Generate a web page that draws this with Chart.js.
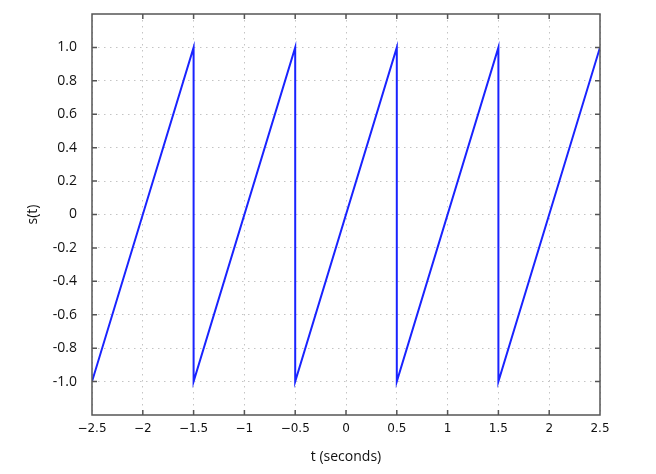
<!DOCTYPE html>
<html>
<head>
<meta charset="utf-8">
<script src="https://cdn.jsdelivr.net/npm/chart.js@4"></script>
<style>
  body { margin: 0; background: #fff; }
</style>
</head>
<body>
<canvas id="myChart" width="656" height="474"></canvas>
<script>
// sawtooth s(t), one period = 1 s
const tPoints = [-2.5, -1.5, -1.5, -0.5, -0.5, 0.5, 0.5, 1.5, 1.5, 2.5];
const sPoints = [-1, 1, -1, 1, -1, 1, -1, 1, -1, 1];

const xTicks = [-2.5, -2, -1.5, -1, -0.5, 0, 0.5, 1, 1.5, 2, 2.5];
const xTickLabels = ["\u22122.5", "\u22122", "\u22121.5", "\u22121", "\u22120.5", "0", "0.5", "1", "1.5", "2", "2.5"];
const yTicks = [-1, -0.8, -0.6, -0.4, -0.2, 0, 0.2, 0.4, 0.6, 0.8, 1];
const yTickLabels = ["-1.0", "-0.8", "-0.6", "-0.4", "-0.2", "0", "0.2", "0.4", "0.6", "0.8", "1.0"];

const fontFam = "'Open Sans', 'Noto Sans', sans-serif";
const textColor = "#111";

// frame + inward tick marks on all four sides
const framePlugin = {
  id: "frame",
  afterDraw(chart) {
    const { ctx, chartArea: a, scales } = chart;
    const len = 5;
    ctx.save();
    ctx.strokeStyle = "#555";
    ctx.lineWidth = 1.5;
    ctx.beginPath();
    xTicks.forEach((v) => {
      if (v === xTicks[0] || v === xTicks[xTicks.length - 1]) return;
      const px = scales.x.getPixelForValue(v);
      ctx.moveTo(px, a.bottom);
      ctx.lineTo(px, a.bottom - len);
      ctx.moveTo(px, a.top);
      ctx.lineTo(px, a.top + len);
    });
    yTicks.forEach((v) => {
      const py = scales.y.getPixelForValue(v);
      ctx.moveTo(a.left, py);
      ctx.lineTo(a.left + len, py);
      ctx.moveTo(a.right, py);
      ctx.lineTo(a.right - len, py);
    });
    ctx.stroke();
    ctx.strokeRect(a.left, a.top, a.right - a.left, a.bottom - a.top);
    ctx.restore();
  }
};

const config = {
  type: "line",
  data: {
    datasets: [
      {
        label: "s(t)",
        data: tPoints.map((t, i) => ({ x: t, y: sPoints[i] })),
        borderColor: "rgb(25, 35, 255)",
        borderWidth: 2,
        pointRadius: 0,
        tension: 0,
        fill: false
      }
    ]
  },
  options: {
    responsive: false,
    animation: false,
    layout: { padding: { top: 14, right: 56, left: 0, bottom: 0 } },
    plugins: { legend: { display: false }, tooltip: { enabled: false } },
    scales: {
      x: {
        type: "linear",
        min: -2.5,
        max: 2.5,
        afterBuildTicks: (scale) => { scale.ticks = xTicks.map((v) => ({ value: v })); },
        afterFit: (scale) => { scale.height = 59; },
        ticks: {
          autoSkip: false,
          maxRotation: 0,
          padding: 7,
          color: textColor,
          font: { family: "'DejaVu Sans', sans-serif", size: 12 },
          callback: (value, index) => xTickLabels[index]
        },
        grid: { color: "#c4c4c4", lineWidth: 1, drawTicks: false },
        border: { display: false, dash: [1.5, 4.5] },
        title: {
          display: true,
          text: "t (seconds)",
          color: textColor,
          font: { family: fontFam, size: 14 },
          padding: { top: 0, bottom: 8.6 }
        }
      },
      y: {
        type: "linear",
        min: -1.2,
        max: 1.2,
        afterBuildTicks: (scale) => { scale.ticks = yTicks.map((v) => ({ value: v })); },
        afterFit: (scale) => {
          scale.width = 92;
          scale.paddingTop = 0;
          scale.paddingBottom = 0;
        },
        ticks: {
          autoSkip: false,
          padding: 15,
          color: textColor,
          font: { family: fontFam, size: 14 },
          callback: (value, index) => yTickLabels[index]
        },
        grid: { color: "#c4c4c4", lineWidth: 1, drawTicks: false },
        border: { display: false, dash: [1.5, 4.5] },
        title: {
          display: true,
          text: "s(t)",
          color: textColor,
          font: { family: fontFam, size: 14 },
          padding: { top: 24.6, bottom: 0 }
        }
      }
    }
  },
  plugins: [framePlugin]
};

const myChart = new Chart(document.getElementById("myChart"), config);
</script>
</body>
</html>
